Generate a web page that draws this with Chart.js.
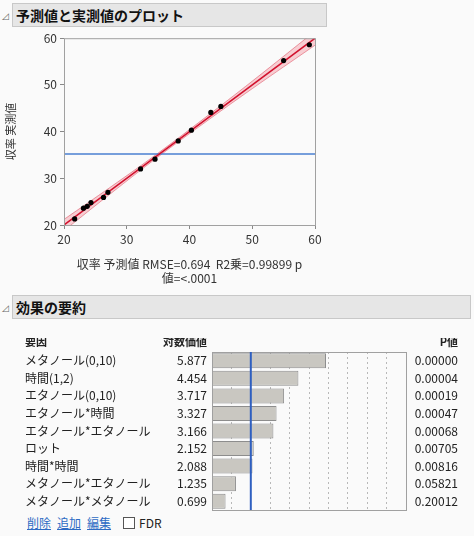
<!DOCTYPE html>
<html><head><meta charset="utf-8">
<script src="https://cdn.jsdelivr.net/npm/chart.js@4"></script>
<style>
body{margin:0;background:#fafafa;font-family:"Noto Sans CJK JP",sans-serif;width:474px;height:536px;position:relative;overflow:hidden}
.hd{position:absolute;left:12px;height:22px;background:#e6e6e6;border:1px solid #c8c8c8;font-weight:bold;font-size:14px;line-height:22px;padding-left:3px;color:#111}
.tri{position:absolute;left:2px;font-size:9px;color:#666}
#c1{position:absolute;left:0;top:28px}
#c2{position:absolute;left:0;top:338px}
.links{position:absolute;left:27px;top:514px;font-size:12px;color:#2d6bc4}
.links span{text-decoration:underline;margin-right:6px}
.cb{display:inline-block;width:10px;height:10px;border:1px solid #555;background:#fff;vertical-align:-1px;margin:0 4px 0 6px}
</style></head><body>
<div class="tri" style="top:9px">◿</div>
<div class="hd" style="top:3px;width:310px">予測値と実測値のプロット</div>
<div class="tri" style="top:301px">◿</div>
<div class="hd" style="top:295px;width:454px">効果の要約</div>
<canvas id="c1" width="330" height="262"></canvas>
<canvas id="c2" width="474" height="176"></canvas>
<div class="links"><span>削除</span><span>追加</span><span>編集</span><i class="cb"></i><b style="font-weight:normal;color:#222">FDR</b></div>
<script>
const predicted = [21.7, 23.1, 23.7, 24.3, 26.3, 27.0, 32.2, 34.5, 38.2, 40.3, 43.4, 45.0, 55.0, 59.1];
const actual    = [21.3, 23.6, 24.0, 24.8, 25.9, 27.0, 32.0, 34.1, 38.0, 40.3, 44.1, 45.4, 55.2, 58.6];
const fitX = [20, 60];
const fitY = [20, 60];
const bandX = [20, 27.5, 35, 42.5, 50, 60];
const bandLo = [18.8, 26.8, 34.6, 42.0, 49.2, 58.5];
const bandHi = [21.2, 28.2, 35.4, 43.0, 50.8, 61.5];
const meanActual = 35.2;

const factors = ['メタノール(0,10)', '時間(1,2)', 'エタノール(0,10)', 'エタノール*時間', 'エタノール*エタノール', 'ロット', '時間*時間', 'メタノール*エタノール', 'メタノール*メタノール'];
const logWorth = [5.877, 4.454, 3.717, 3.327, 3.166, 2.152, 2.088, 1.235, 0.699];
const pValues = ['0.00000', '0.00004', '0.00019', '0.00047', '0.00068', '0.00705', '0.00816', '0.05821', '0.20012'];
const threshold = 2;

const font = '"Noto Sans CJK JP", sans-serif';
const pts = (xs, ys) => xs.map((x, i) => ({x, y: ys[i]}));

const frame = {
  id: 'frame',
  afterDraw(c) {
    const a = c.chartArea, g = c.ctx;
    g.save(); g.strokeStyle = '#a0a0a0'; g.lineWidth = 1;
    g.strokeRect(a.left + 0.5, a.top + 0.5, a.width, a.height); g.restore();
  }
};

new Chart(document.getElementById('c1'), {
  type: 'scatter',
  data: {
    datasets: [
      {data: pts(predicted, actual), backgroundColor: '#000', pointRadius: 2.6, borderWidth: 0},
      {type: 'line', data: pts(fitX, fitY), borderColor: '#d2122e', borderWidth: 1.5, pointRadius: 0},
      {type: 'line', data: pts(fitX, [meanActual, meanActual]), borderColor: '#4a7fd0', borderWidth: 1.5, pointRadius: 0},
      {type: 'line', data: pts(bandX, bandHi), borderWidth: 1, borderColor: 'rgba(220,60,80,0.5)', backgroundColor: 'rgba(240,120,135,0.35)', fill: '+1', pointRadius: 0, tension: 0.4},
      {type: 'line', data: pts(bandX, bandLo), borderWidth: 1, borderColor: 'rgba(220,60,80,0.5)', pointRadius: 0, fill: false, tension: 0.4}
    ]
  },
  options: {
    responsive: false, animation: false,
    layout: {padding: {top: 9, right: 15}},
    plugins: {legend: {display: false}, tooltip: {enabled: false}},
    scales: {
      x: {min: 20, max: 60, afterFit: s => { s.height = 65; },
        ticks: {stepSize: 10, color: '#333', font: {family: font, size: 12}, maxRotation: 0},
        grid: {drawOnChartArea: false, tickLength: 4, color: '#888'},
        title: {display: true, text: ['収率 予測値 RMSE=0.694  R2乗=0.99899 p', '値=<.0001'], color: '#333', font: {family: font, size: 12}, padding: {top: 4}}},
      y: {min: 20, max: 60, afterFit: s => { s.width = 64; },
        ticks: {stepSize: 10, color: '#333', font: {family: font, size: 12}},
        grid: {drawOnChartArea: false, tickLength: 4, color: '#888'},
        title: {display: true, text: '収率 実測値', color: '#333', font: {family: font, size: 11}, padding: {bottom: 8}}}
    }
  },
  plugins: [frame]
});

const columns = {
  id: 'columns',
  afterDraw(c) {
    const g = c.ctx, y = c.scales.y, x = c.scales.x, a = c.chartArea;
    g.save();
    g.strokeStyle = '#2f5fc0'; g.lineWidth = 2;
    const tx = x.getPixelForValue(threshold);
    g.beginPath(); g.moveTo(tx, a.top); g.lineTo(tx, a.bottom); g.stroke();
    g.fillStyle = '#222'; g.textBaseline = 'middle';
    g.font = 'bold 11px ' + font;
    g.textAlign = 'left'; g.fillText('要因', 25, 4);
    g.textAlign = 'right'; g.fillText('対数価値', 207, 4); g.fillText('P値', 458, 4);
    g.font = '12px ' + font;
    factors.forEach((f, i) => {
      const py = y.getPixelForValue(i);
      g.textAlign = 'left'; g.fillText(f, 25, py);
      g.textAlign = 'right'; g.fillText(logWorth[i].toFixed(3), 207, py); g.fillText(pValues[i], 458, py);
    });
    g.restore();
  }
};

new Chart(document.getElementById('c2'), {
  type: 'bar',
  data: {labels: factors, datasets: [{data: logWorth, backgroundColor: '#c9c7c1', borderColor: '#8d8d8d', borderWidth: 1, barPercentage: 0.9, categoryPercentage: 0.95}]},
  options: {
    indexAxis: 'y', responsive: false, animation: false,
    layout: {padding: {left: 212, right: 68, top: 14, bottom: 4}},
    plugins: {legend: {display: false}, tooltip: {enabled: false}},
    scales: {
      x: {min: 0, max: 10, afterFit: s => { s.height = 0; }, ticks: {display: false, stepSize: 1},
        grid: {color: '#b8b8b8', drawTicks: false}, border: {display: false, dash: [2, 3]}},
      y: {afterFit: s => { s.width = 0; }, ticks: {display: false}, grid: {display: false}, border: {display: false}}
    }
  },
  plugins: [frame, columns]
});
</script>
</body></html>
